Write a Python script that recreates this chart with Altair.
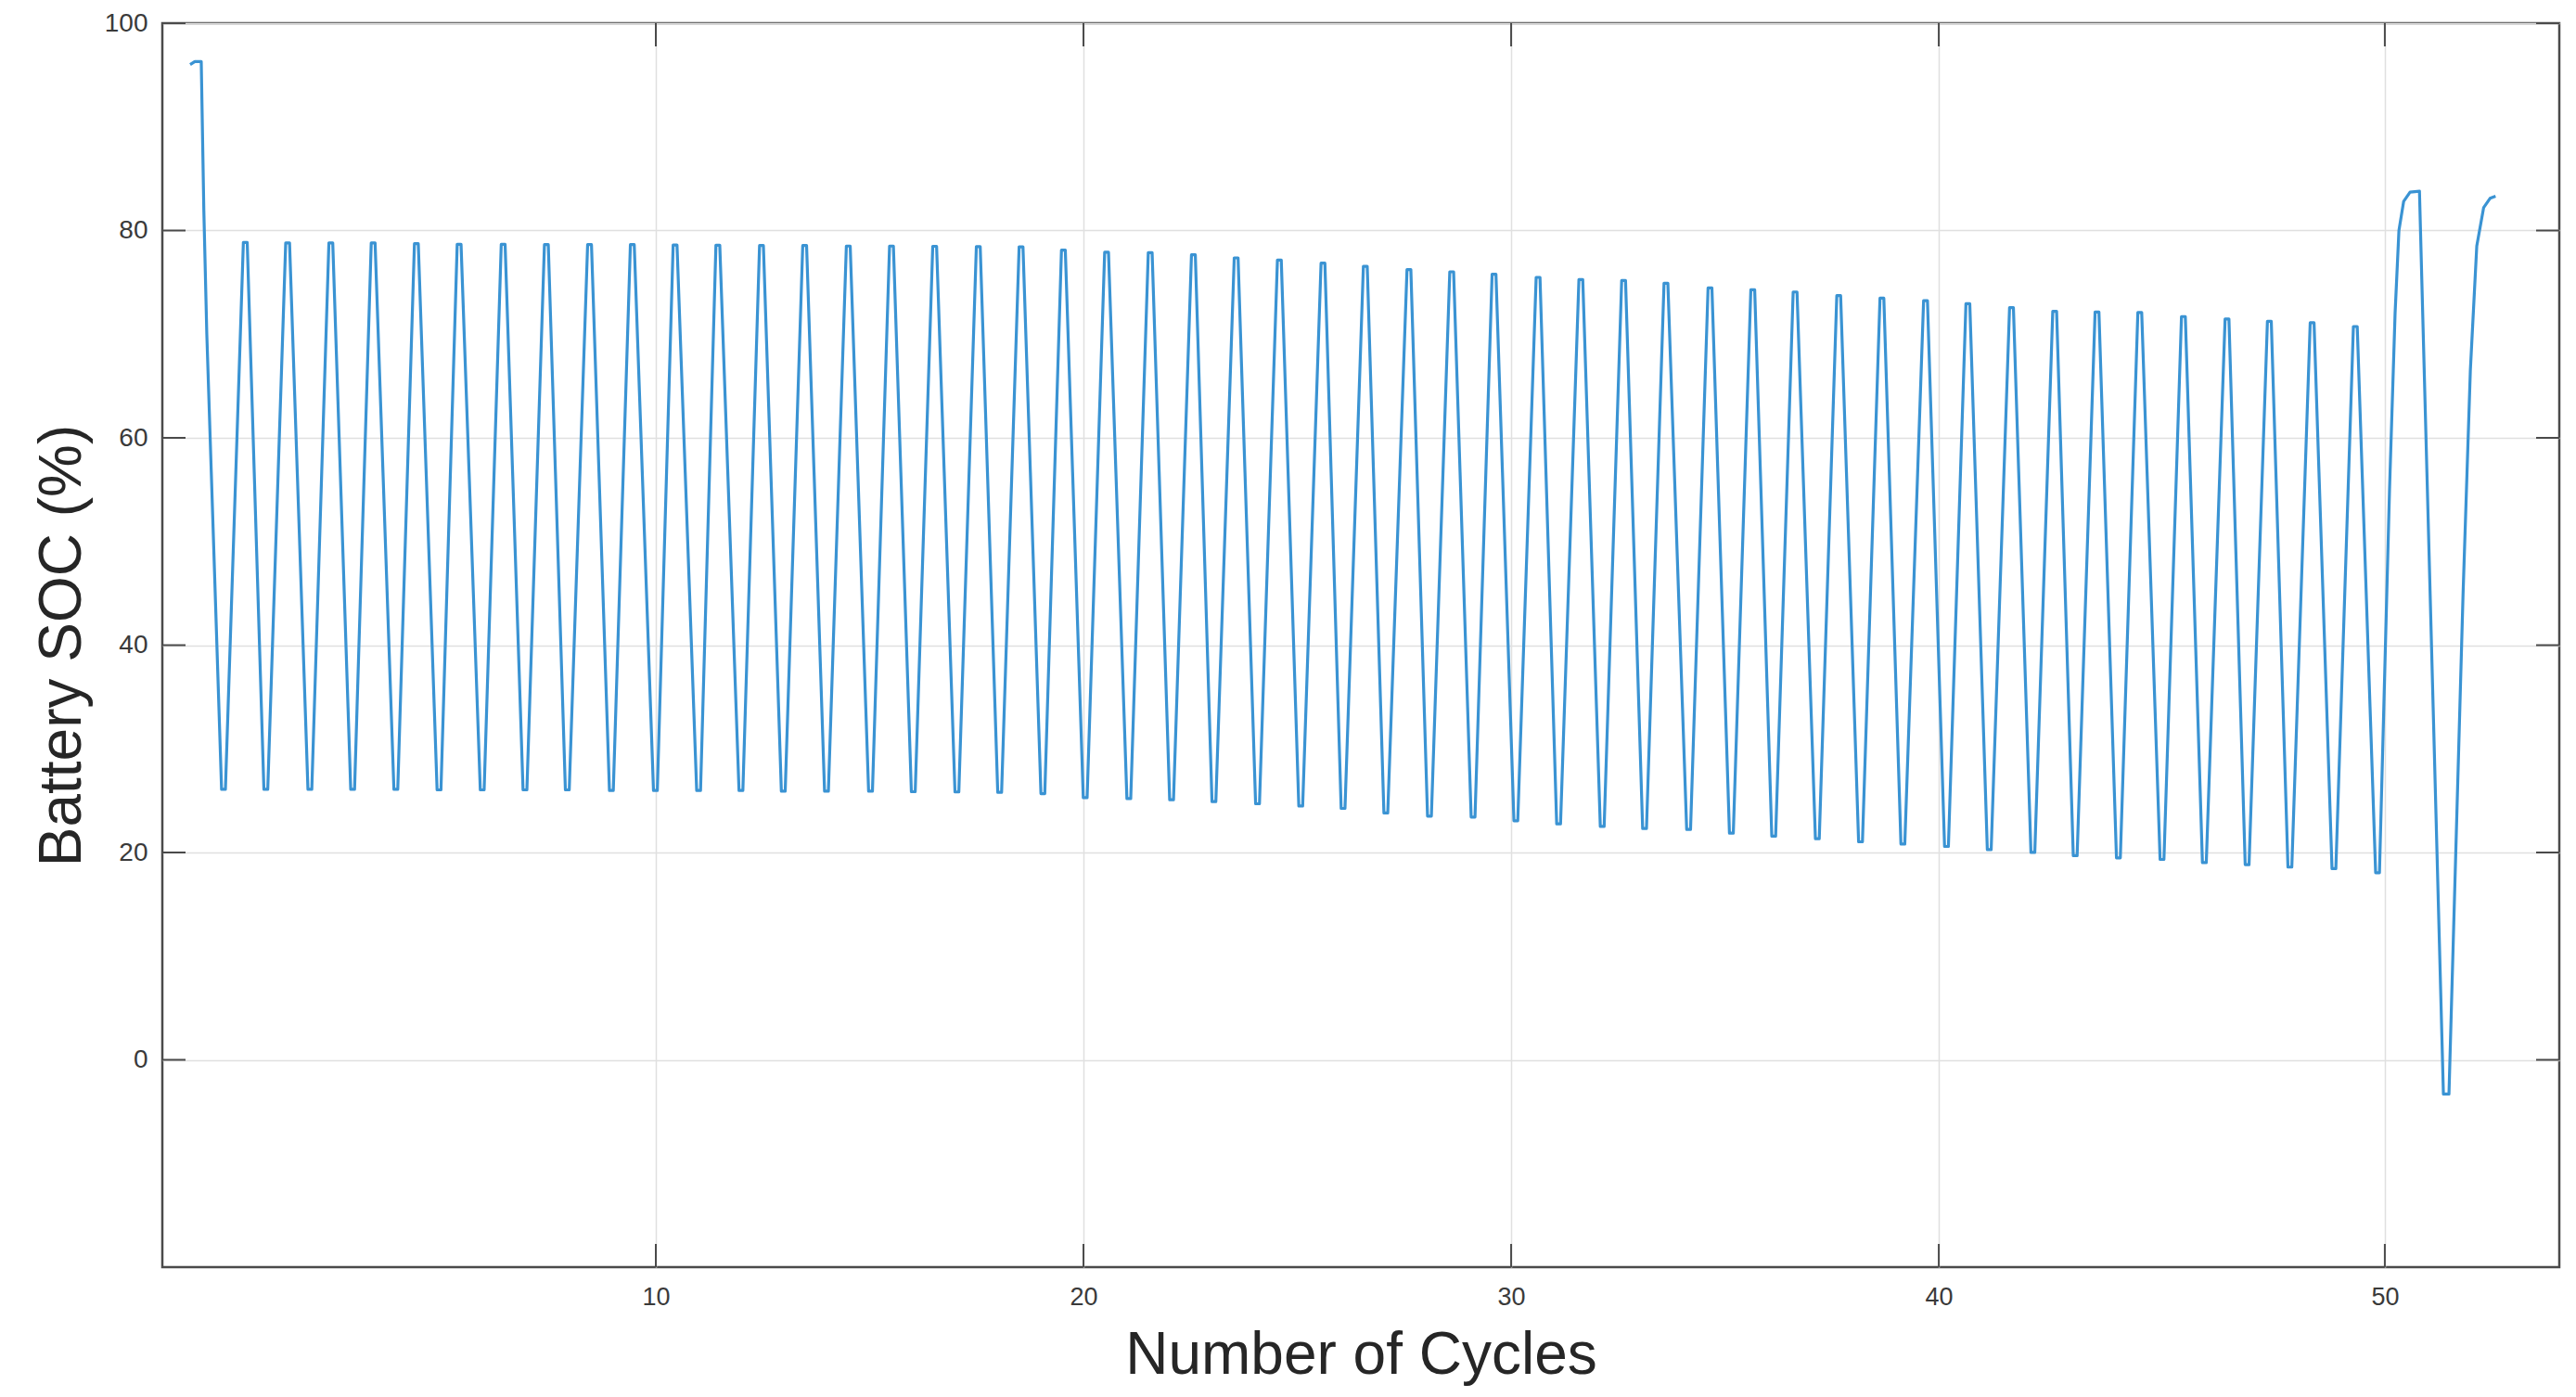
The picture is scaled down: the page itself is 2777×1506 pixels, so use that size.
import altair as alt
import pandas as pd

# ---- data ----
START_X = [-0.89, -0.78, -0.63, -0.57, -0.50]
START_Y = [96.0, 96.3, 96.3, 82.0, 70.0]

TROUGH_X = [-0.11, 0.88, 1.91, 2.91, 3.92, 4.93, 5.94, 6.94, 7.93, 8.96, 9.99, 11.00, 11.99,
            12.98, 13.99, 15.02, 16.02, 17.04, 18.04, 19.05, 20.04, 21.06, 22.06, 23.05, 24.07,
            25.08, 26.07, 27.07, 28.09, 29.11, 30.11, 31.11, 32.13, 33.12, 34.15, 35.15, 36.14,
            37.16, 38.17, 39.16, 40.18, 41.18, 42.20, 43.19, 44.20, 45.22, 46.21, 47.21, 48.21,
            49.24, 50.26]
TROUGH_Y = [26.1, 26.1, 26.1, 26.1, 26.1, 26.04, 26.04, 26.04, 26.04, 25.98, 25.98, 25.98, 25.98,
            25.92, 25.92, 25.92, 25.86, 25.84, 25.8, 25.68, 25.29, 25.2, 25.09, 24.91, 24.7,
            24.49, 24.25, 23.81, 23.51, 23.42, 23.06, 22.76, 22.52, 22.31, 22.22, 21.87, 21.57,
            21.33, 21.03, 20.82, 20.58, 20.28, 20.01, 19.69, 19.48, 19.33, 19.03, 18.83, 18.59,
            18.44, 18.05]

PEAK_X = [0.40, 1.39, 2.40, 3.39, 4.40, 5.40, 6.43, 7.44, 8.45, 9.45, 10.45, 11.45, 12.47, 13.48,
          14.50, 15.51, 16.52, 17.54, 18.54, 19.53, 20.54, 21.56, 22.57, 23.57, 24.58, 25.60,
          26.59, 27.61, 28.61, 29.60, 30.63, 31.63, 32.63, 33.62, 34.65, 35.65, 36.64, 37.66,
          38.67, 39.69, 40.68, 41.70, 42.71, 43.70, 44.70, 45.72, 46.74, 47.73, 48.73, 49.74]
PEAK_Y = [78.85, 78.8, 78.8, 78.8, 78.73, 78.67, 78.67, 78.64, 78.64, 78.64, 78.6, 78.58, 78.55,
          78.55, 78.5, 78.5, 78.48, 78.45, 78.42, 78.11, 77.9, 77.87, 77.66, 77.36, 77.15, 76.85,
          76.55, 76.23, 76.02, 75.78, 75.48, 75.27, 75.18, 74.91, 74.47, 74.29, 74.07, 73.72,
          73.47, 73.24, 72.94, 72.57, 72.2, 72.14, 72.1, 71.7, 71.47, 71.25, 71.1, 70.74]

END_X = [50.54, 50.67, 50.76, 50.87, 51.02, 51.24, 51.80, 51.93, 52.04, 52.26, 52.43, 52.58,
         52.74, 52.89, 53.02]
END_Y = [55.0, 72.0, 80.0, 82.8, 83.7, 83.8, -3.3, -3.3, 12.8, 45.0, 66.5, 78.5, 82.2, 83.1, 83.3]

PLATEAU_HALF = 0.045  # half width of the flat tips of each cycle

Y_TICKS = [0, 20, 40, 60, 80, 100]
X_TICK_POS = [10, 20, 30, 40, 50.43]
X_TICK_LABELS = ["10", "20", "30", "40", "50"]

# ---- build table ----
rows = list(zip(START_X, START_Y))
for i in range(len(TROUGH_X)):
    rows.append((TROUGH_X[i] - PLATEAU_HALF, TROUGH_Y[i]))
    rows.append((TROUGH_X[i] + PLATEAU_HALF, TROUGH_Y[i]))
    if i < len(PEAK_X):
        rows.append((PEAK_X[i] - PLATEAU_HALF, PEAK_Y[i]))
        rows.append((PEAK_X[i] + PLATEAU_HALF, PEAK_Y[i]))
rows += list(zip(END_X, END_Y))
df = pd.DataFrame(rows, columns=["cycle", "soc"])
df["order"] = range(len(df))

W, H = 2584, 1341
TICK_LEN = 25
FONT = "Liberation Sans"
AXIS_COLOR = "#4a4a4a"
GRID_COLOR = "#e0e0e0"

x_scale = alt.Scale(domain=[-1.54, 54.51], nice=False, zero=False)
y_scale = alt.Scale(domain=[-20, 100], nice=False, zero=False)

label_expr = "".join(
    f"abs(datum.value - {p}) < 0.01 ? '{l}' : " for p, l in zip(X_TICK_POS, X_TICK_LABELS)
) + "''"

X_AXIS = alt.Axis(values=X_TICK_POS, labelExpr=label_expr, title="Number of Cycles",
                  grid=True, gridColor=GRID_COLOR, gridWidth=1.5, domain=False,
                  ticks=False, tickSize=0, labelPadding=19, labelFontSize=27,
                  titleFontSize=64, titleX=W / 2, titleY=95, titleAlign="center",
                  titleBaseline="middle", labelFlush=False)
Y_AXIS = alt.Axis(values=Y_TICKS, title="Battery SOC (%)", grid=True,
                  gridColor=GRID_COLOR, gridWidth=1.5, domain=False, ticks=False,
                  tickSize=0, labelPadding=16, labelFontSize=28, titleFontSize=64,
                  titleX=-108, titleY=H / 2, titleAngle=270, titleAlign="center",
                  titleBaseline="middle", labelFlush=False)

line = alt.Chart(df).mark_line(color="#3a93d3", strokeWidth=3.2, clip=True,
                               strokeJoin="round").encode(
    x=alt.X("cycle:Q", scale=x_scale, axis=X_AXIS),
    y=alt.Y("soc:Q", scale=y_scale, axis=Y_AXIS),
    order="order:Q",
)

yt = pd.DataFrame({"v": Y_TICKS})
xt = pd.DataFrame({"v": X_TICK_POS})

left_ticks = alt.Chart(yt).mark_rule(color=AXIS_COLOR, strokeWidth=2).encode(
    y=alt.Y("v:Q", scale=y_scale, axis=Y_AXIS), x=alt.value(0), x2=alt.value(TICK_LEN))
right_ticks = alt.Chart(yt).mark_rule(color=AXIS_COLOR, strokeWidth=2).encode(
    y=alt.Y("v:Q", scale=y_scale, axis=Y_AXIS), x=alt.value(W - TICK_LEN), x2=alt.value(W))
bottom_ticks = alt.Chart(xt).mark_rule(color=AXIS_COLOR, strokeWidth=2).encode(
    x=alt.X("v:Q", scale=x_scale, axis=X_AXIS), y=alt.value(H - TICK_LEN), y2=alt.value(H))
top_ticks = alt.Chart(xt).mark_rule(color=AXIS_COLOR, strokeWidth=2).encode(
    x=alt.X("v:Q", scale=x_scale, axis=X_AXIS), y=alt.value(0), y2=alt.value(TICK_LEN))

chart = alt.layer(line, left_ticks, right_ticks, bottom_ticks, top_ticks).properties(
    width=W, height=H,
    autosize=alt.AutoSizeParams(type="none"),
    padding={"left": 167, "top": 17, "right": 10, "bottom": 130},
    background="white",
).configure_view(
    stroke=AXIS_COLOR, strokeWidth=2.5
).configure_axis(
    labelFont=FONT, titleFont=FONT, labelColor="#3a3a3a", titleColor="#262626",
    titleFontWeight="normal"
)

chart.save("out.html", embed_options={"renderer": "svg", "actions": False})
